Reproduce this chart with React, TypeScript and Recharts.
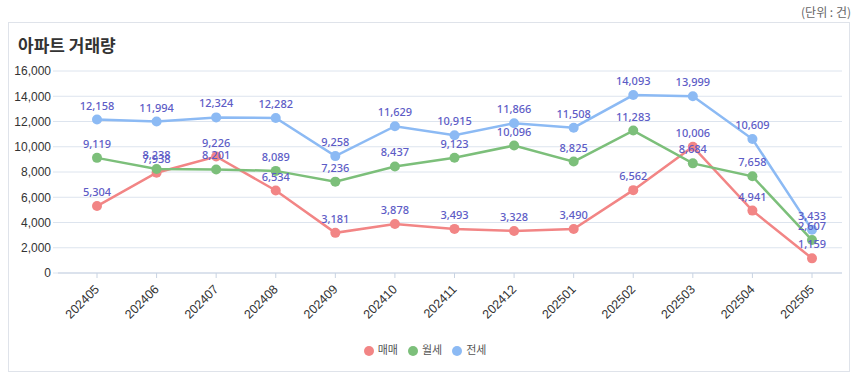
import React from 'react';
import { LineChart, Line, XAxis, YAxis, CartesianGrid, Legend, LabelList } from 'recharts';

const months = ['202405', '202406', '202407', '202408', '202409', '202410', '202411', '202412', '202501', '202502', '202503', '202504', '202505'];
const sales = [5304, 7938, 9226, 6534, 3181, 3878, 3493, 3328, 3490, 6562, 10006, 4941, 1159];
const monthlyRent = [9119, 8238, 8201, 8089, 7236, 8437, 9123, 10096, 8825, 11283, 8684, 7658, 2607];
const jeonse = [12158, 11994, 12324, 12282, 9258, 11629, 10915, 11866, 11508, 14093, 13999, 10609, 3433];
const yTicks = [0, 2000, 4000, 6000, 8000, 10000, 12000, 14000, 16000];

const data = months.map((m, i) => ({ month: m, sales: sales[i], rent: monthlyRent[i], jeonse: jeonse[i] }));

const series = [
  { key: 'sales', name: '매매', color: '#f28585' },
  { key: 'rent', name: '월세', color: '#7cbf7a' },
  { key: 'jeonse', name: '전세', color: '#8cbaf4' },
];

const LABEL_COLOR = '#5d5cc6';
const GRID = '#dde4ee';

const XTick = ({ x, y, payload }: any) => (
  <text
    x={x + 3}
    y={y + 10}
    transform={`rotate(-45, ${x + 3}, ${y + 10})`}
    textAnchor="end"
    fontSize={12.5}
    fill="#333"
    fontFamily="'Liberation Sans', Arial, sans-serif"
  >
    {payload.value}
  </text>
);

export default function App() {
  return (
    <div style={{ position: 'absolute', left: 0, top: 0, width: 860, height: 383, background: '#fff' }}>
      <div
        style={{
          position: 'absolute', right: 9, top: 4, fontSize: 12, color: '#666',
          fontFamily: "'Noto Sans CJK KR', 'Noto Sans', sans-serif", lineHeight: '16px',
        }}
      >
        (단위 : 건)
      </div>
      <div
        style={{
          position: 'absolute', left: 8, top: 22, width: 842, height: 350,
          border: '1px solid #dfe3ea', boxSizing: 'border-box',
        }}
      />
      <div
        style={{
          position: 'absolute', left: 18, top: 33, fontSize: 17, fontWeight: 700, color: '#333',
          fontFamily: "'Noto Sans CJK KR', sans-serif", lineHeight: '24px',
        }}
      >
        아파트 거래량
      </div>
      <div style={{ position: 'absolute', left: 0, top: 0 }}>
        <LineChart width={860} height={383} data={data} margin={{ top: 55, right: 18, bottom: 50, left: 8 }}>
          <CartesianGrid vertical={false} stroke={GRID} />
          <XAxis
            dataKey="month"
            padding={{ left: 39, right: 30 }}
            axisLine={{ stroke: '#c8d3e2' }}
            tickLine={{ stroke: '#c8d3e2' }}
            tickSize={5}
            interval={0}
            tick={<XTick />}
            height={60}
          />
          <YAxis
            domain={[0, 16000]}
            ticks={yTicks}
            width={50}
            axisLine={false}
            tickLine={{ stroke: GRID }}
            tickSize={5}
            tickMargin={2}
            tickFormatter={(v: number) => v.toLocaleString('en-US')}
            tick={{ fontSize: 12, fill: '#333', fontFamily: "'Liberation Sans', Arial, sans-serif" }}
          />
          <Legend
            verticalAlign="top"
            iconType="circle"
            iconSize={10}
            wrapperStyle={{ position: 'absolute', top: 341, left: 0, width: 860, fontSize: 11 }}
            formatter={(value: string) => (
              <span style={{ color: '#555', fontFamily: "'Noto Sans CJK KR', sans-serif" }}>{value}</span>
            )}
          />
          {series.map((s) => (
            <Line
              key={s.key}
              dataKey={s.key}
              name={s.name}
              stroke={s.color}
              strokeWidth={2.5}
              dot={{ r: 5, fill: s.color, stroke: 'none' }}
              activeDot={false}
              isAnimationActive={false}
            >
              <LabelList
                dataKey={s.key}
                position="top"
                offset={10}
                fill={LABEL_COLOR}
                fontSize={11}
                fontWeight={500}
                fontFamily="'Noto Sans', sans-serif"
                formatter={(v: number) => v.toLocaleString('en-US')}
              />
            </Line>
          ))}
        </LineChart>
      </div>
    </div>
  );
}
